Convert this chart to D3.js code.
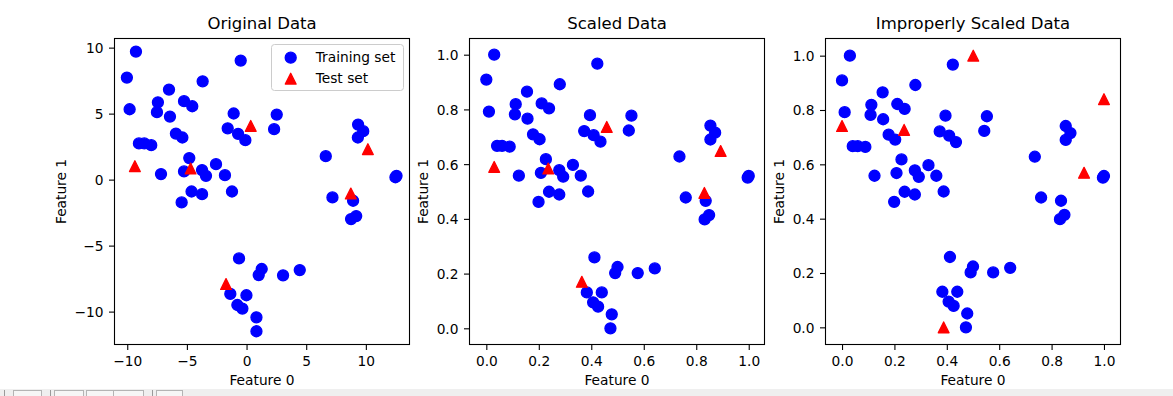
<!DOCTYPE html>
<html>
<head>
<meta charset="utf-8">
<script src="https://cdn.jsdelivr.net/npm/d3@7"></script>
<style>
  html, body { margin: 0; padding: 0; background: #fff; }
  svg { display: block; }
  text { font-family: "DejaVu Sans", sans-serif; fill: #000; }
</style>
</head>
<body>
<svg id="chart" width="1173" height="396"></svg>
<script>
// ---------------- DATA ----------------
const panelTitles = ["Original Data", "Scaled Data", "Improperly Scaled Data"];
const xLabel = "Feature 0";
const yLabel = "Feature 1";
const legendLabels = ["Training set", "Test set"];

// Original data (training set)
const trainX = [-9.27,-10.03,-9.80,-0.49,-3.68,-6.50,-7.43,-7.51,-6.42,-5.24,-4.55,-5.92,-5.38,-9.02,-8.57,-7.99,-4.80,-7.17,-5.24,-3.73,-3.40,-2.56,-1.81,-1.22,-4.61,-3.73,-5.44,-1.08,-1.58,-0.71,-0.10,2.31,2.53,6.64,7.20,9.35,9.78,9.33,12.57,12.48,8.93,8.76,9.19,-0.63,1.27,1.02,3.06,4.46,-1.36,-0.01,-0.77,-0.35,0.83,0.83];
const trainY = [9.70,7.73,5.33,9.02,7.45,6.82,5.86,5.11,4.78,5.94,5.56,3.49,3.19,2.74,2.74,2.61,1.63,0.42,0.62,0.72,0.29,1.17,0.34,-0.90,-0.90,-1.10,-1.73,5.01,3.89,3.47,2.99,3.82,4.93,1.78,-1.35,4.17,3.67,3.19,0.29,0.18,-1.60,-2.99,-2.76,-5.97,-6.77,-7.23,-7.25,-6.85,-8.66,-8.76,-9.50,-9.77,-10.43,-11.49];
// Original data (test set)
const testX = [-9.36,-4.69,0.35,-1.72,8.74,10.17];
const testY = [1.02,0.84,4.07,-7.91,-1.05,2.31];

// Scaled training set (as shown in the 2nd and 3rd panels)
const trainScaledX = [0.030,0.000,0.010,0.423,0.280,0.155,0.112,0.109,0.157,0.211,0.239,0.178,0.203,0.041,0.060,0.089,0.227,0.124,0.208,0.278,0.293,0.330,0.360,0.388,0.239,0.278,0.199,0.395,0.373,0.409,0.435,0.543,0.553,0.736,0.760,0.854,0.872,0.854,1.000,0.996,0.836,0.832,0.849,0.412,0.500,0.491,0.577,0.642,0.383,0.440,0.407,0.426,0.478,0.473];
const trainScaledY = [1.000,0.909,0.792,0.967,0.892,0.865,0.819,0.782,0.766,0.822,0.804,0.709,0.691,0.667,0.667,0.664,0.618,0.558,0.568,0.578,0.554,0.597,0.558,0.500,0.499,0.489,0.462,0.779,0.721,0.706,0.682,0.723,0.777,0.628,0.478,0.741,0.715,0.690,0.557,0.551,0.466,0.398,0.414,0.259,0.224,0.202,0.202,0.219,0.131,0.131,0.095,0.079,0.051,0.000];
// Test set, properly scaled
const testScaledX = [0.030,0.236,0.459,0.364,0.831,0.893];
const testScaledY = [0.590,0.584,0.736,0.170,0.495,0.648];
// Test set, improperly scaled
const testBadX = [0.000,0.237,0.501,0.388,0.924,1.000];
const testBadY = [0.741,0.727,1.000,0.000,0.569,0.840];

const ticksOriginal = [-10, -5, 0, 5, 10];
const ticksScaled = [0.0, 0.2, 0.4, 0.6, 0.8, 1.0];

// ---------------- LAYOUT ----------------
const W = 1173, H = 396;
const plotTop = 38, plotBottom = 345;
const panels = [
  { left: 114, right: 410, xDom: [-11.11, 13.70], yDom: [-12.53, 10.73], ticks: ticksOriginal, fmt: d3.format("d"),
    train: [trainX, trainY], test: [testX, testY], legend: true },
  { left: 469, right: 765, xDom: [-0.066, 1.062], yDom: [-0.061, 1.061], ticks: ticksScaled, fmt: d3.format(".1f"),
    train: [trainScaledX, trainScaledY], test: [testScaledX, testScaledY], legend: false },
  { left: 825, right: 1121, xDom: [-0.065, 1.065], yDom: [-0.065, 1.065], ticks: ticksScaled, fmt: d3.format(".1f"),
    train: [trainScaledX, trainScaledY], test: [testBadX, testBadY], legend: false }
];
const trainColor = "#0000ff", testColor = "#ff0000";
const circleR = 5.5, triH = 5.4, markerStroke = 1.3;
const fontTick = 13.75, fontTitle = 16.5;

const svg = d3.select("#chart");
svg.append("rect").attr("width", W).attr("height", H).attr("fill", "#fff");

const triPath = h => `M0,${-h}L${h},${h}L${-h},${h}Z`;

panels.forEach((p, i) => {
  const x = d3.scaleLinear().domain(p.xDom).range([p.left, p.right]);
  const y = d3.scaleLinear().domain(p.yDom).range([plotBottom, plotTop]);
  const g = svg.append("g");

  const clipId = "clip" + i;
  svg.append("clipPath").attr("id", clipId).append("rect")
    .attr("x", p.left).attr("y", plotTop).attr("width", p.right - p.left).attr("height", plotBottom - plotTop);

  const marks = g.append("g").attr("clip-path", `url(#${clipId})`);
  marks.selectAll("circle.train").data(d3.range(p.train[0].length)).join("circle")
    .attr("class", "train")
    .attr("cx", k => x(p.train[0][k])).attr("cy", k => y(p.train[1][k]))
    .attr("r", circleR).attr("fill", trainColor)
    .attr("stroke", trainColor).attr("stroke-width", markerStroke);
  marks.selectAll("path.test").data(d3.range(p.test[0].length)).join("path")
    .attr("class", "test")
    .attr("d", triPath(triH))
    .attr("transform", k => `translate(${x(p.test[0][k])},${y(p.test[1][k])})`)
    .attr("fill", testColor).attr("stroke", testColor)
    .attr("stroke-width", markerStroke).attr("stroke-linejoin", "round");

  const xa = g.append("g").attr("transform", `translate(0,${plotBottom})`)
    .call(d3.axisBottom(x).tickValues(p.ticks).tickFormat(p.fmt).tickSize(5).tickPadding(6).tickSizeOuter(0));
  const ya = g.append("g").attr("transform", `translate(${p.left},0)`)
    .call(d3.axisLeft(y).tickValues(p.ticks).tickFormat(p.fmt).tickSize(5).tickPadding(5.5).tickSizeOuter(0));
  [xa, ya].forEach(a => {
    a.select(".domain").remove();
    a.selectAll("line").attr("stroke", "#000").attr("stroke-width", 1.1);
    a.selectAll("text").attr("font-size", fontTick).attr("font-family", "DejaVu Sans").attr("fill", "#000");
  });
  ya.selectAll("text").attr("dy", "0.36em");

  g.append("rect").attr("x", p.left + 0.5).attr("y", plotTop + 0.5)
    .attr("width", p.right - p.left - 1).attr("height", plotBottom - plotTop - 1)
    .attr("fill", "none").attr("stroke", "#000").attr("stroke-width", 1.1);

  g.append("text").attr("x", (p.left + p.right) / 2).attr("y", 29.3)
    .attr("text-anchor", "middle").attr("font-size", fontTitle).text(panelTitles[i]);

  g.append("text").attr("x", (p.left + p.right) / 2).attr("y", 385)
    .attr("text-anchor", "middle").attr("font-size", fontTick).text(xLabel);

  let maxW = 0;
  ya.selectAll("text").each(function () { maxW = Math.max(maxW, this.getComputedTextLength()); });
  const lx = p.left - 5 - 5.5 - maxW - 5.5 - 3.3;
  g.append("text").attr("transform", `translate(${lx},${(plotTop + plotBottom) / 2}) rotate(-90)`)
    .attr("text-anchor", "middle").attr("font-size", fontTick).text(yLabel);

  if (p.legend) {
    const lg = g.append("g");
    lg.append("rect").attr("x", 271.5).attr("y", 44.5).attr("width", 132).attr("height", 46)
      .attr("rx", 3).attr("fill", "#fff").attr("fill-opacity", 0.8)
      .attr("stroke", "#cccccc").attr("stroke-width", 1);
    lg.append("circle").attr("cx", 290.7).attr("cy", 57.7).attr("r", circleR)
      .attr("fill", trainColor).attr("stroke", trainColor).attr("stroke-width", markerStroke);
    lg.append("path").attr("d", triPath(triH)).attr("transform", "translate(290.7,78.7)")
      .attr("fill", testColor).attr("stroke", testColor).attr("stroke-width", markerStroke)
      .attr("stroke-linejoin", "round");
    lg.append("text").attr("x", 315.7).attr("y", 62.2).attr("font-size", fontTick).text(legendLabels[0]);
    lg.append("text").attr("x", 315.7).attr("y", 83.2).attr("font-size", fontTick).text(legendLabels[1]);
  }
});

// toolbar strip at the bottom (window chrome)
const tb = svg.append("g");
tb.append("rect").attr("x", 0).attr("y", 389).attr("width", W).attr("height", 7).attr("fill", "#efefef");
[[13.5, 41.5], [54.5, 83.5], [86.5, 113.5], [113.5, 143.5], [156.5, 182.5]].forEach(([a, b]) => {
  tb.append("rect").attr("x", a).attr("y", 390.5).attr("width", b - a).attr("height", 8)
    .attr("fill", "#f6f6f6").attr("stroke", "#b4b4b4").attr("stroke-width", 1);
});
[4.5, 50.5, 152.5].forEach(xx => {
  tb.append("line").attr("x1", xx).attr("x2", xx).attr("y1", 390).attr("y2", 396)
    .attr("stroke", "#9a9a9a").attr("stroke-width", 1);
});
</script>
</body>
</html>
